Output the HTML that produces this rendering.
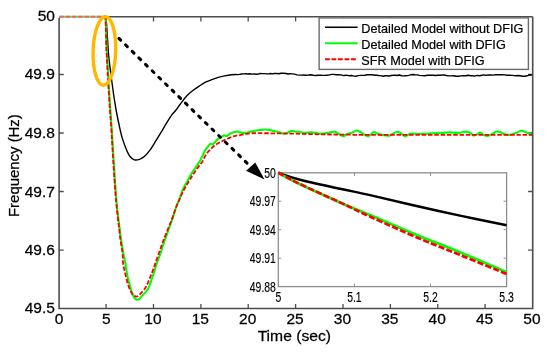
<!DOCTYPE html>
<html><head><meta charset="utf-8"><style>
html,body{margin:0;padding:0;background:#fff;}
body{width:550px;height:352px;overflow:hidden;}
svg{display:block;}
</style></head><body>
<svg width="550" height="352" viewBox="0 0 550 352"><rect width="550" height="352" fill="#fff"/><path d="M106.1,308.5V303.9M106.1,16.8V21.4M153.5,308.5V303.9M153.5,16.8V21.4M200.9,308.5V303.9M200.9,16.8V21.4M248.2,308.5V303.9M248.2,16.8V21.4M295.6,308.5V303.9M295.6,16.8V21.4M343.0,308.5V303.9M343.0,16.8V21.4M390.4,308.5V303.9M390.4,16.8V21.4M437.8,308.5V303.9M437.8,16.8V21.4M485.1,308.5V303.9M485.1,16.8V21.4M59.1,250.1H63.7M532.7,250.1H528.1M59.1,191.5H63.7M532.7,191.5H528.1M59.1,133.0H63.7M532.7,133.0H528.1M59.1,74.5H63.7M532.7,74.5H528.1" stroke="#4d4d4d" stroke-width="1.3" fill="none"/><path d="M105.0,16.8L105.60,16.80C105.73,17.67 106.07,18.13 106.40,22.00C106.73,25.87 107.23,34.50 107.60,40.00C107.97,45.50 108.10,49.67 108.60,55.00C109.10,60.33 110.02,67.25 110.60,72.00C111.18,76.75 111.53,79.33 112.10,83.50C112.67,87.67 113.32,92.50 114.00,97.00C114.68,101.50 115.38,106.00 116.20,110.50C117.02,115.00 117.92,119.48 118.90,124.00C119.88,128.52 120.75,133.10 122.10,137.60C123.45,142.10 125.68,147.85 127.00,151.00C128.32,154.15 128.78,155.03 130.00,156.50C131.22,157.97 132.70,159.33 134.30,159.80C135.90,160.27 137.83,159.92 139.60,159.30C141.37,158.68 143.12,157.70 144.90,156.10C146.68,154.50 148.52,152.18 150.30,149.70C152.08,147.22 153.83,144.05 155.60,141.20C157.37,138.35 159.13,135.52 160.90,132.60C162.67,129.68 164.42,126.60 166.20,123.70C167.98,120.80 170.00,117.43 171.60,115.20C173.20,112.97 174.40,112.08 175.80,110.30C177.20,108.52 178.23,106.83 180.00,104.50C181.77,102.17 184.27,98.63 186.40,96.30C188.53,93.97 190.67,92.20 192.80,90.50C194.93,88.80 197.08,87.48 199.20,86.10C201.32,84.72 203.38,83.27 205.50,82.20C207.62,81.13 209.77,80.50 211.90,79.70C214.03,78.90 216.17,78.03 218.30,77.40C220.43,76.77 222.57,76.33 224.70,75.90C226.83,75.47 230.03,74.98 231.10,74.80L236.0,74.5 237.7,74.6 239.4,74.4 241.4,74.0 243.6,73.9 245.7,73.8 247.4,74.0 250.0,73.8 251.8,74.1 254.6,74.0 256.7,74.2 258.3,74.1 260.2,73.5 261.9,73.6 264.5,73.6 266.8,73.9 268.9,73.9 270.5,73.5 272.3,73.9 274.4,73.5 276.7,73.5 278.7,73.7 281.1,73.2 283.4,73.3 286.1,73.5 288.0,74.0 289.7,73.8 292.3,73.9 294.5,74.1 296.9,74.9 299.2,75.1 301.1,75.1 303.5,75.0 305.6,75.2 308.4,75.0 310.8,74.7 313.3,75.2 316.1,75.5 318.0,75.3 320.5,75.2 322.6,75.4 324.3,75.4 326.9,75.2 328.7,75.1 331.4,74.4 333.6,74.4 336.2,74.8 338.9,74.7 341.0,74.9 343.7,75.6 345.5,75.2 347.3,75.4 349.5,75.8 351.4,75.5 353.5,75.9 355.8,76.2 358.2,75.6 360.6,75.4 362.2,75.4 364.8,75.3 367.3,74.8 369.4,74.6 371.8,74.8 373.4,75.0 375.2,75.3 376.8,75.2 378.5,75.5 380.5,75.6 383.2,76.2 385.0,75.8 387.0,75.8 388.7,76.0 391.5,75.5 393.7,75.1 395.4,75.3 397.3,75.5 399.0,75.0 401.8,75.7 403.6,75.9 405.1,75.7 407.9,75.6 410.4,74.9 412.4,74.5 415.0,74.8 417.6,74.9 419.4,75.4 422.2,75.6 424.8,75.7 427.4,75.3 429.6,75.3 431.2,75.1 433.1,75.2 435.5,75.5 437.6,75.3 440.5,75.3 442.5,74.9 444.4,75.0 446.2,75.5 448.9,75.9 451.1,75.9 453.7,75.7 456.1,76.3 458.6,76.2 460.8,75.9 463.4,75.7 466.0,75.7 468.1,75.2 470.9,75.7 472.6,75.6 474.4,76.2 477.0,75.4 479.6,75.7 482.0,75.2 484.3,74.9 485.8,75.4 488.2,75.0 491.0,74.9 493.7,75.1 495.5,74.7 497.4,74.7 499.7,74.8 501.8,74.7 504.6,74.9 506.7,75.2 509.4,75.2 512.2,75.4 514.5,75.6 516.0,75.7 517.8,75.5 520.4,75.8 522.5,76.3 524.8,76.2 527.0,75.8 529.6,75.0 531.9,75.0 532.6,74.9" fill="none" stroke="#000" stroke-width="1.4" stroke-linejoin="round"/><path d="M59.2,16.8H105.6" fill="none" stroke="#4ee86a" stroke-width="2"/><path d="M59.2,16.8H105.6" fill="none" stroke="#ff5c5c" stroke-width="2" stroke-dasharray="4.5 1.8"/><path d="M105.40,16.80C105.50,18.17 105.80,20.13 106.00,25.00C106.20,29.87 106.27,38.17 106.60,46.00C106.93,53.83 107.43,62.17 108.00,72.00C108.57,81.83 109.37,95.33 110.00,105.00C110.63,114.67 111.20,120.83 111.80,130.00C112.40,139.17 112.83,148.33 113.60,160.00C114.37,171.67 115.37,188.33 116.40,200.00C117.43,211.67 118.98,223.17 119.80,230.00C120.62,236.83 120.73,237.22 121.30,241.00C121.87,244.78 122.50,248.87 123.20,252.70C123.90,256.53 124.83,260.28 125.50,264.00C126.17,267.72 126.65,272.10 127.20,275.00C127.75,277.90 128.27,279.25 128.80,281.40C129.33,283.55 129.77,285.73 130.40,287.90C131.03,290.07 131.90,292.72 132.60,294.40C133.30,296.08 133.97,297.15 134.60,298.00C135.23,298.85 135.73,299.25 136.40,299.50C137.07,299.75 137.95,299.77 138.60,299.50C139.25,299.23 139.70,298.55 140.30,297.90C140.90,297.25 141.38,296.48 142.20,295.60C143.02,294.72 144.18,293.78 145.20,292.60C146.22,291.42 147.45,290.03 148.30,288.50C149.15,286.97 149.62,285.28 150.30,283.40C150.98,281.52 151.72,279.25 152.40,277.20C153.08,275.15 153.82,272.97 154.40,271.10C154.98,269.23 155.38,267.65 155.90,266.00C156.42,264.35 156.70,263.42 157.50,261.20C158.30,258.98 159.57,255.98 160.70,252.70C161.83,249.42 162.42,246.95 164.30,241.50C166.18,236.05 170.05,225.67 172.00,220.00C173.95,214.33 174.83,210.83 176.00,207.50C177.17,204.17 177.90,202.88 179.00,200.00C180.10,197.12 181.28,193.20 182.60,190.20C183.92,187.20 185.47,184.68 186.90,182.00C188.33,179.32 189.78,176.47 191.20,174.10C192.62,171.73 193.98,169.92 195.40,167.80C196.82,165.68 198.38,163.67 199.70,161.40C201.02,159.13 202.38,156.12 203.30,154.20C204.22,152.28 204.52,151.05 205.20,149.90C205.88,148.75 206.53,148.30 207.40,147.30C208.27,146.30 209.55,144.38 210.40,143.90C211.25,143.42 211.80,144.62 212.50,144.40C213.20,144.18 213.82,143.40 214.60,142.60C215.38,141.80 216.27,140.45 217.20,139.60C218.13,138.75 219.28,138.07 220.20,137.50C221.12,136.93 222.00,136.55 222.70,136.20C223.40,135.85 223.68,135.45 224.40,135.40C225.12,135.35 226.15,136.12 227.00,135.90C227.85,135.68 228.65,134.62 229.50,134.10C230.35,133.58 231.10,133.18 232.10,132.80C233.10,132.42 234.52,132.02 235.50,131.80C236.48,131.58 237.25,131.40 238.00,131.50C238.75,131.60 238.75,132.17 240.00,132.40C241.25,132.63 243.68,133.03 245.50,132.90C247.32,132.77 249.08,132.00 250.90,131.60C252.72,131.20 254.58,130.78 256.40,130.50C258.22,130.22 260.35,130.07 261.80,129.90C263.25,129.73 263.83,129.50 265.10,129.50C266.37,129.50 268.13,129.70 269.40,129.90C270.67,130.10 271.23,130.35 272.70,130.70C274.17,131.05 276.38,131.48 278.20,132.00C280.02,132.52 281.97,133.73 283.60,133.80C285.23,133.87 286.55,132.88 288.00,132.40C289.45,131.92 290.85,131.00 292.30,130.90C293.75,130.80 295.42,131.65 296.70,131.80C297.98,131.95 298.90,131.62 300.00,131.80C301.10,131.98 301.48,132.80 303.30,132.90C305.12,133.00 308.72,132.40 310.90,132.40C313.08,132.40 314.95,132.67 316.40,132.90C317.85,133.13 317.78,133.80 319.60,133.80C321.42,133.80 324.93,133.27 327.30,132.90C329.67,132.53 332.17,131.63 333.80,131.60C335.43,131.57 336.02,132.15 337.10,132.70C338.18,133.25 339.22,134.32 340.30,134.90C341.38,135.48 342.50,136.35 343.60,136.20C344.70,136.05 345.62,134.55 346.90,134.00C348.18,133.45 349.67,133.48 351.30,132.90C352.93,132.32 355.25,130.68 356.70,130.50C358.15,130.32 358.90,131.22 360.00,131.80C361.10,132.38 362.03,133.27 363.30,134.00C364.57,134.73 366.33,136.12 367.60,136.20C368.87,136.28 369.90,135.20 370.90,134.50C371.90,133.80 372.52,132.17 373.60,132.00C374.68,131.83 376.03,133.02 377.40,133.50C378.77,133.98 379.80,134.55 381.80,134.90C383.80,135.25 387.58,135.75 389.40,135.60C391.22,135.45 391.42,134.63 392.70,134.00C393.98,133.37 395.83,131.98 397.10,131.80C398.37,131.62 399.03,132.17 400.30,132.90C401.57,133.63 403.23,135.98 404.70,136.20C406.17,136.42 407.83,134.65 409.10,134.20C410.37,133.75 410.48,133.53 412.30,133.50C414.12,133.47 416.90,134.05 420.00,134.00C423.10,133.95 427.27,133.38 430.90,133.20C434.53,133.02 438.72,133.03 441.80,132.90C444.88,132.77 446.67,132.40 449.40,132.40C452.13,132.40 455.47,133.03 458.20,132.90C460.93,132.77 463.80,131.60 465.80,131.60C467.80,131.60 468.93,132.23 470.20,132.90C471.47,133.57 472.32,135.33 473.40,135.60C474.48,135.87 475.57,135.00 476.70,134.50C477.83,134.00 479.07,132.53 480.20,132.60C481.33,132.67 482.23,134.33 483.50,134.90C484.77,135.47 486.35,136.15 487.80,136.00C489.25,135.85 490.75,134.73 492.20,134.00C493.65,133.27 495.23,131.93 496.50,131.60C497.77,131.27 498.52,131.60 499.80,132.00C501.08,132.40 502.75,133.52 504.20,134.00C505.65,134.48 507.05,134.90 508.50,134.90C509.95,134.90 511.43,134.42 512.90,134.00C514.37,133.58 515.85,132.95 517.30,132.40C518.75,131.85 520.15,130.70 521.60,130.70C523.05,130.70 524.72,131.88 526.00,132.40C527.28,132.92 528.20,133.35 529.30,133.80C530.40,134.25 532.05,134.88 532.60,135.10" fill="none" stroke="#00ff00" stroke-width="2.1" stroke-linejoin="round"/><path d="M105.20,16.80C105.30,18.17 105.62,20.13 105.80,25.00C105.98,29.87 106.00,38.17 106.30,46.00C106.60,53.83 107.05,62.17 107.60,72.00C108.15,81.83 108.97,95.33 109.60,105.00C110.23,114.67 110.80,120.83 111.40,130.00C112.00,139.17 112.43,148.33 113.20,160.00C113.97,171.67 114.98,188.33 116.00,200.00C117.02,211.67 118.53,223.17 119.30,230.00C120.07,236.83 120.07,237.22 120.60,241.00C121.13,244.78 122.12,249.20 122.50,252.70C122.88,256.20 122.57,259.02 122.90,262.00C123.23,264.98 123.88,267.72 124.50,270.60C125.12,273.48 125.88,276.60 126.60,279.30C127.32,282.00 127.98,284.55 128.80,286.80C129.62,289.05 130.72,291.40 131.50,292.80C132.28,294.20 132.82,294.60 133.50,295.20C134.18,295.80 134.93,296.22 135.60,296.40C136.27,296.58 136.75,296.68 137.50,296.30C138.25,295.92 138.98,295.23 140.10,294.10C141.22,292.97 143.02,291.12 144.20,289.50C145.38,287.88 146.35,286.10 147.20,284.40C148.05,282.70 148.62,281.00 149.30,279.30C149.98,277.60 150.62,275.90 151.30,274.20C151.98,272.50 152.65,271.13 153.40,269.10C154.15,267.07 154.75,265.02 155.80,262.00C156.85,258.98 158.40,254.67 159.70,251.00C161.00,247.33 161.62,245.17 163.60,240.00C165.58,234.83 169.57,225.33 171.60,220.00C173.63,214.67 174.52,211.33 175.80,208.00C177.08,204.67 178.00,202.93 179.30,200.00C180.60,197.07 181.98,193.53 183.60,190.40C185.22,187.27 187.38,183.92 189.00,181.20C190.62,178.48 191.75,176.47 193.30,174.10C194.85,171.73 196.77,169.12 198.30,167.00C199.83,164.88 201.28,163.35 202.50,161.40C203.72,159.45 204.50,157.08 205.60,155.30C206.70,153.52 207.82,152.17 209.10,150.70C210.38,149.23 211.88,147.70 213.30,146.50C214.72,145.30 216.03,144.43 217.60,143.50C219.17,142.57 221.13,141.68 222.70,140.90C224.27,140.12 225.58,139.43 227.00,138.80C228.42,138.17 229.78,137.60 231.20,137.10C232.62,136.60 234.03,136.13 235.50,135.80C236.97,135.47 238.33,135.40 240.00,135.10C241.67,134.80 243.67,134.30 245.50,134.00C247.33,133.70 248.58,133.43 251.00,133.30C253.42,133.17 255.17,133.18 260.00,133.20C264.83,133.22 273.33,133.30 280.00,133.40C286.67,133.50 293.33,133.65 300.00,133.80C306.67,133.95 313.33,134.17 320.00,134.30C326.67,134.43 333.33,134.52 340.00,134.60C346.67,134.68 353.33,134.75 360.00,134.80C366.67,134.85 373.33,134.88 380.00,134.90C386.67,134.92 393.33,134.90 400.00,134.90C406.67,134.90 413.33,134.90 420.00,134.90C426.67,134.90 433.33,134.90 440.00,134.90C446.67,134.90 453.33,134.90 460.00,134.90C466.67,134.90 473.33,134.90 480.00,134.90C486.67,134.90 493.33,134.90 500.00,134.90C506.67,134.90 514.57,134.90 520.00,134.90C525.43,134.90 530.50,134.90 532.60,134.90" fill="none" stroke="#ff0000" stroke-width="1.8" stroke-dasharray="4.5 1.8" stroke-dashoffset="1.5" stroke-linejoin="round"/><path d="M59.1,17.8V308.5H532.7V16.8" stroke="#4d4d4d" stroke-width="1.6" fill="none"/><path d="M105.6,16.8H532.7" stroke="#4d4d4d" stroke-width="1.6" fill="none"/><g font-family='"Liberation Sans", Arial, sans-serif' font-size="14.5" fill="#000" stroke="#000" stroke-width="0.25"><text transform="translate(59.05,324.1) scale(1.07,1)" text-anchor="middle">0</text><text transform="translate(106.42,324.1) scale(1.07,1)" text-anchor="middle">5</text><text transform="translate(152.90,324.1) scale(1.07,1)" text-anchor="middle">10</text><text transform="translate(200.28,324.1) scale(1.07,1)" text-anchor="middle">15</text><text transform="translate(247.65,324.1) scale(1.07,1)" text-anchor="middle">20</text><text transform="translate(295.02,324.1) scale(1.07,1)" text-anchor="middle">25</text><text transform="translate(342.40,324.1) scale(1.07,1)" text-anchor="middle">30</text><text transform="translate(389.77,324.1) scale(1.07,1)" text-anchor="middle">35</text><text transform="translate(437.15,324.1) scale(1.07,1)" text-anchor="middle">40</text><text transform="translate(484.52,324.1) scale(1.07,1)" text-anchor="middle">45</text><text transform="translate(531.90,324.1) scale(1.07,1)" text-anchor="middle">50</text><text transform="translate(54.9,21.30) scale(1.07,1)" text-anchor="end">50</text><text transform="translate(54.9,79.45) scale(1.07,1)" text-anchor="end">49.9</text><text transform="translate(54.9,138.00) scale(1.07,1)" text-anchor="end">49.8</text><text transform="translate(54.9,196.55) scale(1.07,1)" text-anchor="end">49.7</text><text transform="translate(54.9,255.10) scale(1.07,1)" text-anchor="end">49.6</text><text transform="translate(54.9,312.95) scale(1.07,1)" text-anchor="end">49.5</text><text transform="translate(294.3,341.2) scale(1.08,1)" text-anchor="middle">Time (sec)</text><text transform="translate(18.6,165.6) rotate(-90) scale(1.03,1)" text-anchor="middle">Frequency (Hz)</text></g><rect x="319.1" y="17.9" width="209.3" height="51.5" fill="#fff" stroke="#6a6a6a" stroke-width="1.4"/><path d="M325,27.3H357.6" stroke="#000" stroke-width="1.6"/><path d="M325,43.3H357.6" stroke="#00ff00" stroke-width="2"/><path d="M325,59.2H356.2" stroke="#ff0000" stroke-width="2" stroke-dasharray="4.8 1.7"/><g font-family='"Liberation Sans", Arial, sans-serif' font-size="12.2" fill="#000" stroke="#000" stroke-width="0.2"><text transform="translate(361.3,32.90) scale(1.04,1)">Detailed Model without DFIG</text><text transform="translate(361.3,48.80) scale(1.04,1)">Detailed Model with DFIG</text><text transform="translate(361.3,64.70) scale(1.04,1)">SFR Model with DFIG</text></g><rect x="278.3" y="172.8" width="228.3" height="113.8" fill="#fff" stroke="#8e8e8e" stroke-width="1.3"/><path d="M354.4,286.6V283.6M354.4,172.8V175.8M430.5,286.6V283.6M430.5,172.8V175.8M278.3,201.2H281.3M506.6,201.2H503.6M278.3,229.7H281.3M506.6,229.7H503.6M278.3,258.2H281.3M506.6,258.2H503.6" stroke="#8e8e8e" stroke-width="1" fill="none"/><path d="M278.30,172.80C281.92,173.95 289.72,177.05 300.00,179.70C310.28,182.35 328.33,186.13 340.00,188.70C351.67,191.27 358.33,192.47 370.00,195.10C381.67,197.73 395.00,201.08 410.00,204.50C425.00,207.92 443.90,212.15 460.00,215.60C476.10,219.05 498.83,223.60 506.60,225.20" fill="none" stroke="#000" stroke-width="2.5" stroke-linejoin="round"/><path d="M278.30,172.80C281.92,174.72 289.72,179.37 300.00,184.30C310.28,189.23 328.33,197.28 340.00,202.40C351.67,207.52 356.67,209.35 370.00,215.00C383.33,220.65 405.00,230.10 420.00,236.30C435.00,242.50 445.57,246.22 460.00,252.20C474.43,258.18 498.83,268.87 506.60,272.20" fill="none" stroke="#00ff00" stroke-width="2.7" stroke-linejoin="round"/><path d="M278.30,172.80C281.92,174.67 289.72,179.07 300.00,184.00C310.28,188.93 328.33,196.97 340.00,202.40C351.67,207.83 356.67,210.53 370.00,216.60C383.33,222.67 405.00,232.42 420.00,238.80C435.00,245.18 445.57,249.03 460.00,254.90C474.43,260.77 498.83,270.82 506.60,274.00" fill="none" stroke="#ff0000" stroke-width="2.7" stroke-dasharray="6.2 2.2" stroke-linejoin="round"/><g font-family='"Liberation Sans", Arial, sans-serif' font-size="14" fill="#000" stroke="#000" stroke-width="0.15"><text transform="translate(275.9,177.80) scale(0.745,1)" text-anchor="end">50</text><text transform="translate(275.9,206.25) scale(0.745,1)" text-anchor="end">49.97</text><text transform="translate(275.9,234.70) scale(0.745,1)" text-anchor="end">49.94</text><text transform="translate(275.9,263.15) scale(0.745,1)" text-anchor="end">49.91</text><text transform="translate(275.9,291.60) scale(0.745,1)" text-anchor="end">49.88</text><text transform="translate(278.30,302.0) scale(0.745,1)" text-anchor="middle">5</text><text transform="translate(354.40,302.0) scale(0.745,1)" text-anchor="middle">5.1</text><text transform="translate(430.50,302.0) scale(0.745,1)" text-anchor="middle">5.2</text><text transform="translate(506.60,302.0) scale(0.745,1)" text-anchor="middle">5.3</text></g><ellipse cx="0" cy="0" rx="11.3" ry="34.2" transform="translate(104.4,51) rotate(1.8)" fill="none" stroke="#ffb700" stroke-width="3.4"/><path d="M118.90,38.43L247.05,163.10" stroke="#000" stroke-width="3" stroke-linecap="round" stroke-dasharray="2.5 6.78" fill="none"/><path d="M264.5,179.5L246.1,170.8L255.3,162.4Z" fill="#000"/></svg>
</body></html>
